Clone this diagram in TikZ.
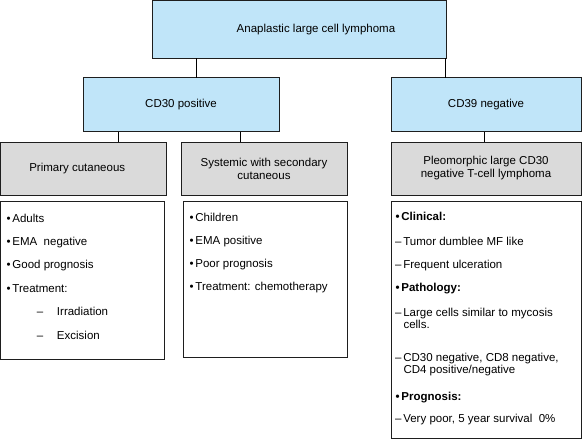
\documentclass[tikz,border=0pt]{standalone}
\usepackage{fontspec}
\setmainfont{Liberation Sans}
\definecolor{bluefill}{RGB}{192,229,249}
\definecolor{greyfill}{RGB}{218,218,218}
\definecolor{edge}{RGB}{30,30,30}
\begin{document}
\begin{tikzpicture}[x=1pt,y=-1pt,
  box/.style={draw=edge, line width=0.9pt, inner sep=0pt, outer sep=0pt, align=center,
    font=\fontsize{11.5}{13}\selectfont},
  bluebox/.style={box, fill=bluefill},
  greybox/.style={box, fill=greyfill},
  whitebox/.style={box, fill=white},
  txt/.style={anchor=base west, inner sep=0pt, outer sep=0pt, font=\fontsize{11.5}{13}\selectfont},
  conn/.style={draw=black, line width=0.8pt}]
\useasboundingbox (0,0) rectangle (582,440);

% boxes
\node[bluebox, minimum width=294pt, minimum height=57.5pt] (top) at (299,29.25) {\hspace*{34pt}Anaplastic large cell lymphoma};
\node[bluebox, minimum width=196pt, minimum height=54pt] (cdpos) at (181,104.5) {CD30 positive};
\node[bluebox, minimum width=190pt, minimum height=54pt] (cdneg) at (486,104.5) {CD39 negative};
\node[greybox, minimum width=165.5pt, minimum height=53pt] (prim) at (83.25,168.5) {Primary cutaneous\hspace*{12pt}};
\node[greybox, minimum width=166pt, minimum height=53pt] (syst) at (264,168.5) {Systemic with secondary\\cutaneous};
\node[greybox, minimum width=190pt, minimum height=53pt] (pleo) at (486,168.5) {Pleomorphic large CD30\\negative T-cell lymphoma};
\node[whitebox, minimum width=163.5pt, minimum height=158pt] (lbul) at (82.25,280) {};
\node[whitebox, minimum width=164pt, minimum height=156pt] (mbul) at (265,279) {};
\node[whitebox, minimum width=190pt, minimum height=237pt] (rbul) at (486,319.5) {};

% connectors
\draw[conn] ([xshift=-103pt]top.south) -- ([xshift=-103pt]top.south |- cdpos.north);
\draw[conn] ([xshift=-1pt]top.south east) -- ([xshift=-1pt]top.south east |- cdneg.north);
\draw[conn] ([xshift=-63pt]cdpos.south) -- ([xshift=-63pt]cdpos.south |- prim.north);
\draw[conn] ([xshift=59pt]cdpos.south) -- ([xshift=59pt]cdpos.south |- syst.north);
\draw[conn] ([xshift=-2pt]cdneg.south) -- ([xshift=-2pt]cdneg.south |- pleo.north);

% left list
\node[txt] (l1) at (6.5,222) {•\,Adults};
\node[txt] (l2) at (6.5,245) {•\,EMA\ \ negative};
\node[txt] (l3) at (6.5,268) {•\,Good prognosis};
\node[txt] (l4) at (6.5,292) {•\,Treatment:};
\node[txt] (l5) at (37,315) {\makebox[20pt][l]{–}Irradiation};
\node[txt] (l6) at (37,339) {\makebox[20pt][l]{–}Excision};

% middle list
\node[txt] (m1) at (189.5,221) {•\,Children};
\node[txt] (m2) at (189.5,244) {•\,EMA positive};
\node[txt] (m3) at (189.5,267.5) {•\,Poor prognosis};
\node[txt] (m4) at (189.5,290.5) {•\,Treatment: chemotherapy};

% right list
\node[txt] (r1) at (395.5,220) {\textbf{•\,Clinical:}};
\node[txt] (r2) at (395,245) {–\,Tumor dumblee MF like};
\node[txt] (r3) at (395,268) {–\,Frequent ulceration};
\node[txt] (r4) at (395.5,291) {\textbf{•\,Pathology:}};
\node[txt] (r5) at (395,316) {–\,Large cells similar to mycosis};
\node[txt] (r6) at (403.5,328.5) {cells.};
\node[txt] (r7) at (395,361) {–\,CD30 negative, CD8 negative,};
\node[txt] (r8) at (403.5,373.5) {CD4 positive/negative};
\node[txt] (r9) at (395.5,400) {\textbf{•\,Prognosis:}};
\node[txt] (r10) at (395,422.5) {–\,Very poor, 5 year survival\ \ 0\%};
\end{tikzpicture}
\end{document}
